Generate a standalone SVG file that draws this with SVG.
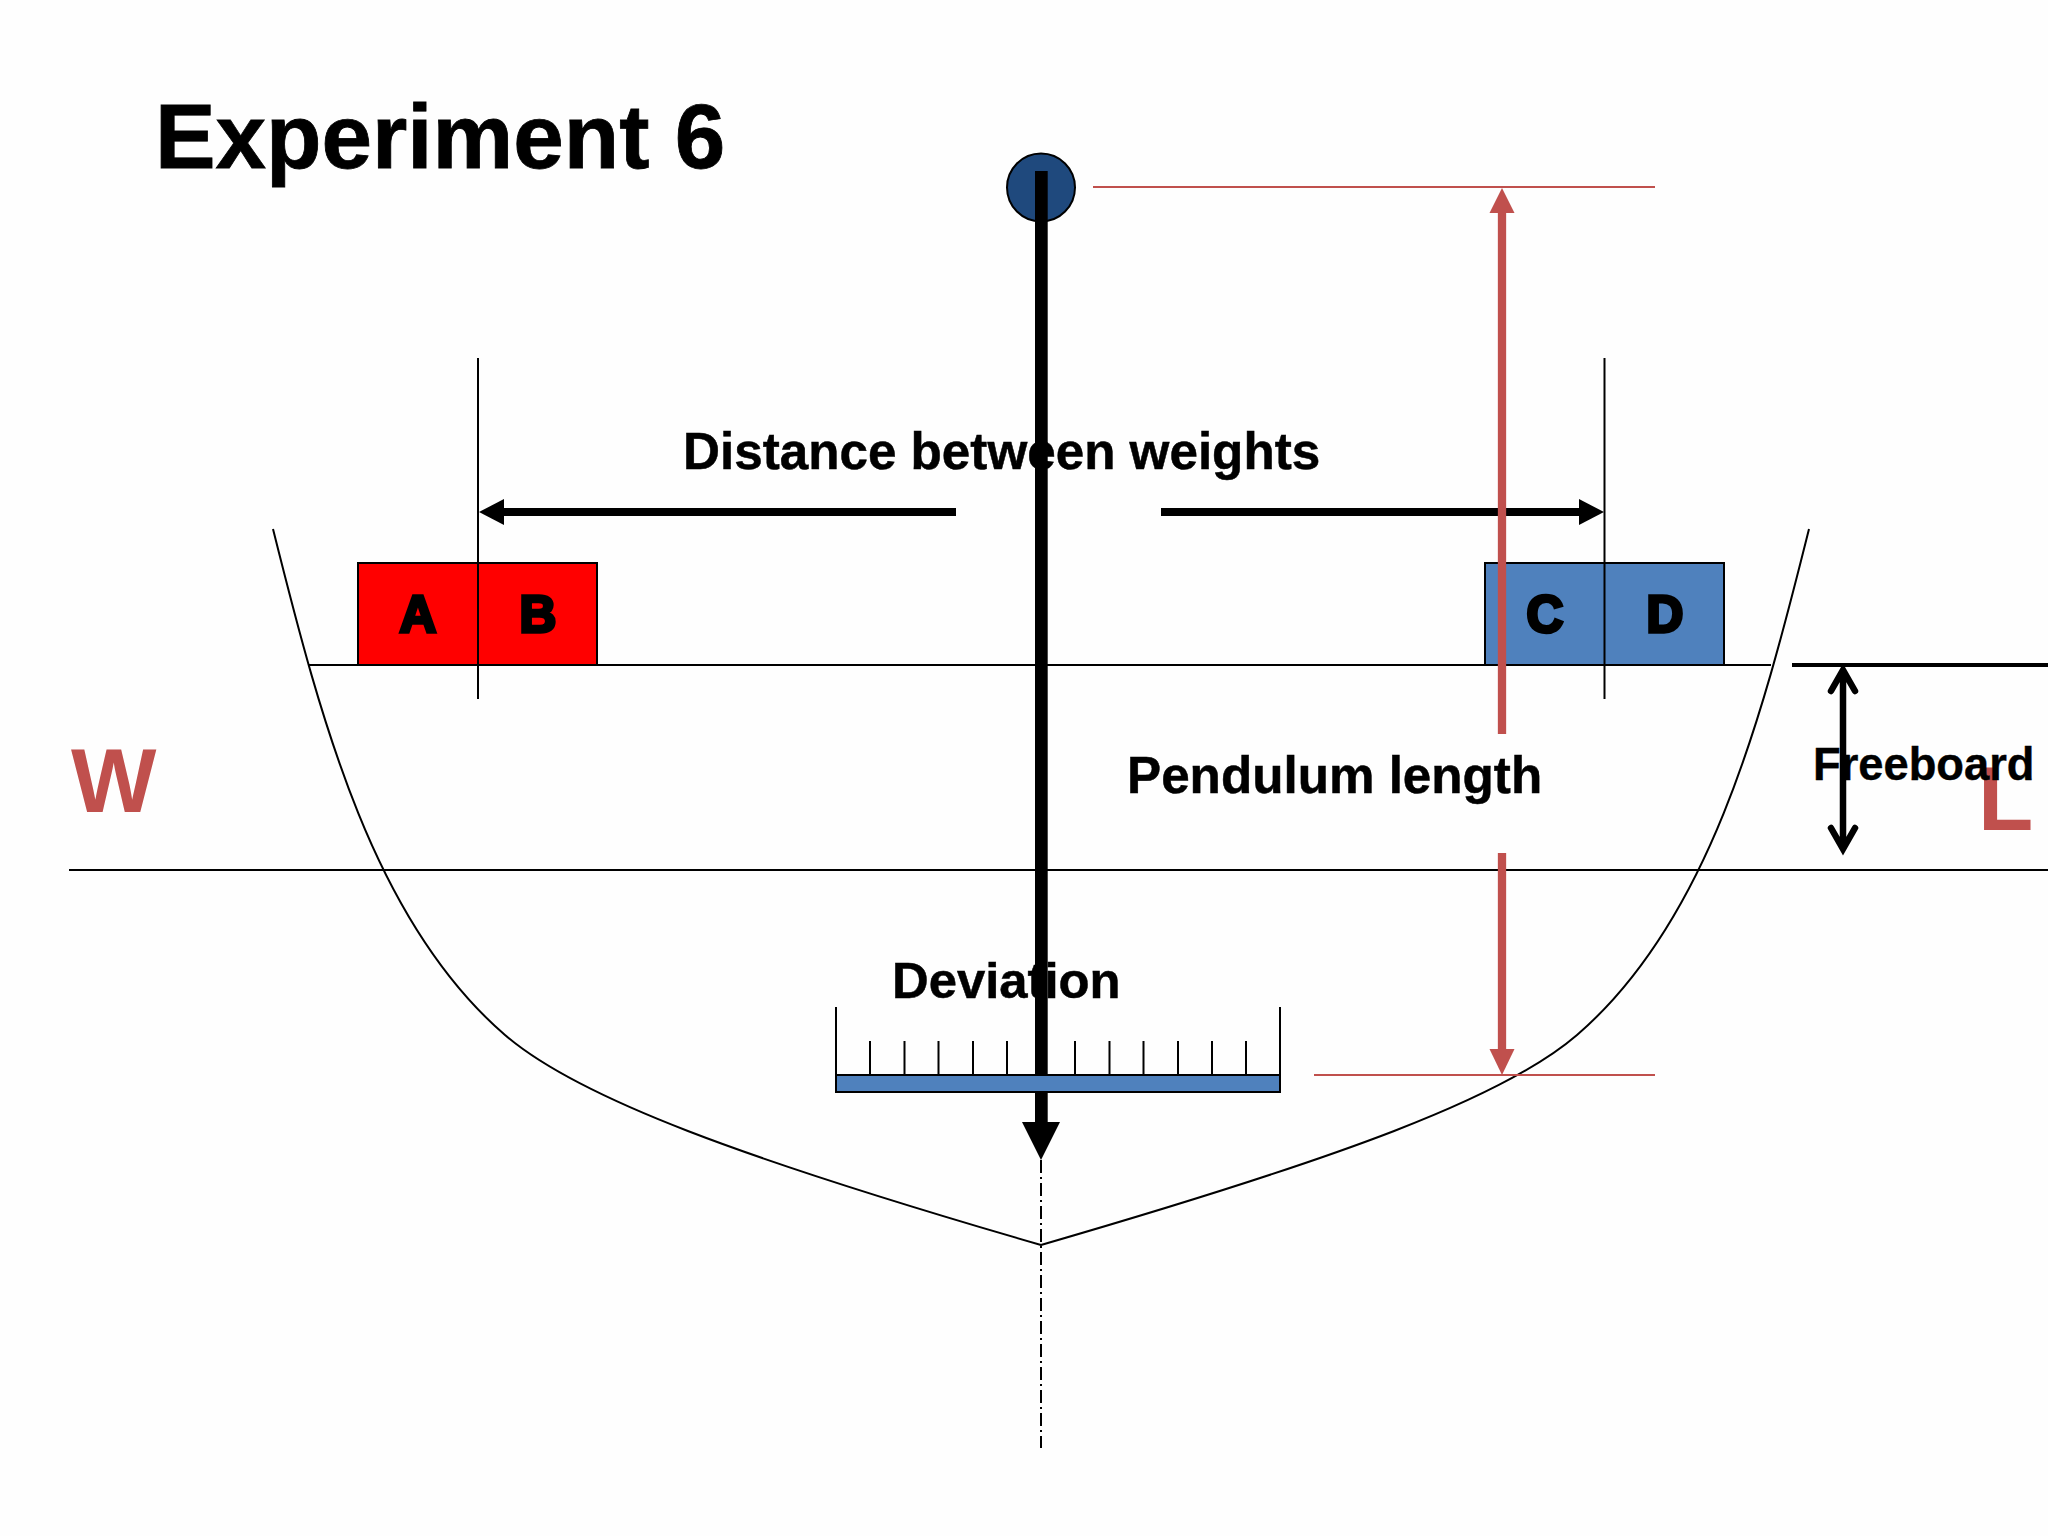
<svg xmlns="http://www.w3.org/2000/svg" width="2048" height="1536" viewBox="0 0 2048 1536">
<style>
text{font-family:"Liberation Sans",Arial,sans-serif;font-weight:bold;fill:#000}
.lbl{font-size:51.200px;stroke:#000;stroke-width:.5px}
.big{font-size:90.500px;fill:#c0504d}
.hv{font-size:51px;text-anchor:middle;stroke:#000;stroke-width:3.400px}
.thin{stroke:#000;stroke-width:2;fill:none}
.red{stroke:#c0504d;stroke-width:2;fill:none}
.redbar{stroke:#c0504d;stroke-width:8.300;fill:none}
.blk{stroke:#000;stroke-width:8;fill:none}
</style>
<defs>
<marker id="hd" markerUnits="userSpaceOnUse" markerWidth="25" markerHeight="26" refX="0" refY="13" orient="auto"><path d="M0 0L25 13L0 26Z" fill="#000"/></marker>
</defs>
<rect width="2048" height="1536" fill="#fefefe"/>
<g id="hull">
<path class="thin" d="M273 529C322 725 374 922 505 1035C578 1098 741 1158 1041 1245C1341 1158 1504 1098 1577 1035C1708 922 1760 725 1809 529"/>
<line class="thin" x1="308" y1="665" x2="1771" y2="665"/>
<line class="thin" x1="69" y1="870" x2="2048" y2="870"/>
<line stroke="#000" stroke-width="2" stroke-dasharray="13 4 2 4" x1="1041" y1="1160" x2="1041" y2="1448"/>
</g>
<g id="weights-ab">
<rect x="358" y="563" width="239" height="102" fill="#ff0000" stroke="#000" stroke-width="2"/>
<text class="hv" x="418" y="632">A</text>
<text class="hv" x="538" y="632">B</text>
</g>
<g id="weights-cd">
<rect x="1485" y="563" width="239" height="102" fill="#4f81bd" stroke="#000" stroke-width="2"/>
<text class="hv" x="1545" y="632">C</text>
<text class="hv" x="1665" y="632">D</text>
</g>
<g id="pivot"><circle cx="1041" cy="187.500" r="34" fill="#1f497d" stroke="#000" stroke-width="2"/></g>
<g id="pendulum">
<rect x="1035" y="171" width="12.700" height="951" fill="#000"/>
<path d="M1022 1122H1060L1041 1160Z" fill="#000"/>
</g>
<g id="scale">
<rect x="836" y="1075" width="444" height="17" fill="#4f81bd" stroke="#000" stroke-width="2"/>
<path class="thin" d="M836 1007V1075M1280 1007V1075M870 1041V1075M904.500 1041V1075M938.500 1041V1075M973 1041V1075M1007 1041V1075M1075 1041V1075M1109.500 1041V1075M1143.500 1041V1075M1178 1041V1075M1212 1041V1075M1246 1041V1075"/>
</g>
<g id="labels">
<text x="155" y="168" style="font-size:90.800px;stroke:#000;stroke-width:.8px">Experiment 6</text>
<text class="lbl" x="683" y="469">Distance between weights</text>
<text class="lbl" x="1127" y="793">Pendulum length</text>
<text class="lbl" x="892" y="998" style="font-size:50.800px">Deviation</text>
<text class="big" x="71" y="812">W</text>
<text class="big" x="1978" y="830">L</text>
</g>
<g id="connectors">
<path class="thin" d="M478 358V699M1604.500 358V699"/>
<path class="blk" d="M956 512H504" marker-end="url(#hd)"/>
<path class="blk" d="M1161 512H1579" marker-end="url(#hd)"/>
<path class="red" d="M1093 187H1655M1314 1075H1655"/>
<path class="redbar" d="M1502 213V734M1502 853V1050"/>
<path d="M1502 188L1514.500 213H1489.500Z" fill="#c0504d"/>
<path d="M1502 1075L1514.500 1049H1489.500Z" fill="#c0504d"/>
<path d="M1792 665H2048" stroke="#000" stroke-width="4" fill="none"/>
<path d="M1843 672V848M1831 691L1843 670L1855 691M1831 828L1843 849L1855 828" stroke="#000" stroke-width="6.500" stroke-linecap="round" stroke-linejoin="miter" fill="none"/>
</g>
<g id="freeboard"><text x="1813" y="780" style="font-size:45.300px;stroke:#000;stroke-width:.4px">Freeboard</text></g>
</svg>
